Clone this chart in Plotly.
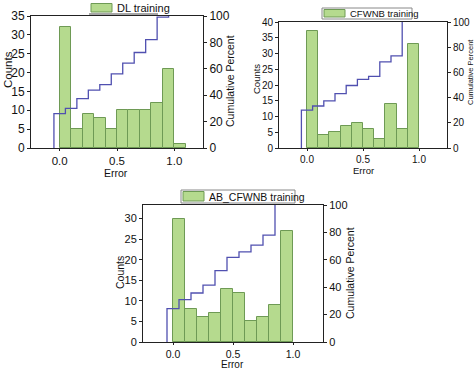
import plotly.graph_objects as go
import numpy as np

# ---- data ----
bin_width = 0.1
dl_counts = [32, 5, 9, 8, 5, 10, 10, 10, 12, 21, 1]
cfwnb_counts = [37, 4, 5, 7, 8, 6, 3, 14, 6, 33]
ab_counts = [30, 8, 6, 7, 13, 12, 5, 6, 9, 27]
names = ["DL training", "CFWNB training", "AB_CFWNB training"]
left_ranges = [35, 40, 33.3]
x_ticks = [0.0, 0.5, 1.0]
x_ticklabels = ["0.0", "0.5", "1.0"]

BAR_FILL = "#b5da8e"
BAR_LINE = "#6e9a55"
LINE_COL = "#5050b0"
FONT = "Liberation Sans, Arial, sans-serif"
W, H = 474, 370

fig = go.Figure()

def px_x(v):
    return v / W

def px_y(v):
    return 1 - v / H

panels = [
    dict(counts=dl_counts, xd=[px_x(31), px_x(203)], yd=[px_y(148), px_y(16)], fs=12, xfs=11.5,
         leg=dict(x0=89, x1=158, y0=2, y1=14, border=False, fs=11),
         t_counts=(8, 70, 11.5), t_cum=(230, 81, 10.5), t_err=(116, 173, 10.5)),
    dict(counts=cfwnb_counts, xd=[px_x(279), px_x(447)], yd=[px_y(148), px_y(22)], fs=10, xfs=10,
         leg=dict(x0=322, x1=412, y0=8, y1=19, border=True, fs=9.5),
         t_counts=(256, 79, 9.5), t_cum=(470, 72, 7.5), t_err=(363, 170, 9.5)),
    dict(counts=ab_counts, xd=[px_x(143), px_x(323)], yd=[px_y(342), px_y(205)], fs=11, xfs=10.5,
         leg=dict(x0=181, x1=295, y0=190, y1=203, border=True, fs=10.5),
         t_counts=(120, 273, 10.5), t_cum=(350, 273, 10.5), t_err=(232, 364.5, 10)),
]

layout = {}
shapes = []
annotations = []
for i, p in enumerate(panels):
    k = i + 1
    xa = "x" if k == 1 else f"x{k}"
    ya_left = "y" if k == 1 else f"y{2*k-1}"
    ya_right = f"y{2*k}"
    counts = np.array(p["counts"], dtype=float)
    n = len(counts)
    centers = bin_width * np.arange(n) + bin_width / 2
    fig.add_trace(go.Bar(
        x=centers, y=counts, width=bin_width,
        marker=dict(color=BAR_FILL, line=dict(color=BAR_LINE, width=1)),
        name=names[i], xaxis=xa, yaxis=ya_left, showlegend=False,
    ))
    cum = np.cumsum(counts) / counts.sum() * 100
    cx = np.concatenate([[centers[0] - bin_width], centers - bin_width])
    cy = np.concatenate([[0], cum])
    fig.add_trace(go.Scatter(
        x=cx, y=cy, mode="lines", line=dict(color=LINE_COL, width=1.3, shape="hv"),
        xaxis=xa, yaxis=ya_right, showlegend=False, cliponaxis=False,
    ))
    fs = p["fs"]
    xkey = "xaxis" if k == 1 else f"xaxis{k}"
    ylkey = "yaxis" if k == 1 else f"yaxis{2*k-1}"
    yrkey = f"yaxis{2*k}"
    common = dict(showline=True, linecolor="#222", linewidth=1, ticks="outside",
                  tickcolor="#222", showgrid=False, zeroline=False, automargin=False)
    layout[xkey] = dict(domain=p["xd"], range=[-0.25, 1.25], anchor=ya_left, ticklen=2,
                        tickvals=x_ticks, ticktext=x_ticklabels, mirror=True,
                        tickfont=dict(size=p["xfs"], color="#111", family=FONT), **common)
    layout[ylkey] = dict(domain=p["yd"], range=[0, left_ranges[i]], anchor=xa, dtick=5, ticklen=3,
                         tickfont=dict(size=fs, color="#111", family=FONT), **common)
    layout[yrkey] = dict(domain=p["yd"], range=[0, 100], anchor=xa, overlaying=ya_left,
                         side="right", dtick=20, ticklen=3,
                         tickfont=dict(size=fs, color="#111", family=FONT), **common)
    # axis titles
    for key, txt, ang in (("t_counts", "Counts", -90), ("t_cum", "Cumulative Percent", -90),
                          ("t_err", "Error", 0)):
        tx, ty, tsz = p[key]
        annotations.append(dict(xref="paper", yref="paper", x=px_x(tx), y=px_y(ty),
                                xanchor="center", yanchor="middle", text=txt, textangle=ang,
                                showarrow=False, font=dict(size=tsz, family=FONT, color="#111")))
    # legend box
    lg = p["leg"]
    if lg["border"]:
        shapes.append(dict(type="rect", xref="paper", yref="paper",
                           x0=px_x(lg["x0"]), x1=px_x(lg["x1"]), y0=px_y(lg["y1"]), y1=px_y(lg["y0"]),
                           line=dict(color="#888", width=1), fillcolor="white", layer="above"))
    else:
        shapes.append(dict(type="rect", xref="paper", yref="paper",
                           x0=px_x(lg["x0"]), x1=px_x(lg["x1"]), y0=px_y(lg["y1"]), y1=px_y(lg["y0"]),
                           line=dict(width=0), fillcolor="white", layer="above"))
        shapes.append(dict(type="line", xref="paper", yref="paper",
                           x0=px_x(lg["x0"]), x1=px_x(lg["x1"]), y0=px_y(lg["y1"]), y1=px_y(lg["y1"]),
                           line=dict(color="#888", width=1.5), layer="above"))
    sw0 = lg["x0"] + 2
    sw1 = sw0 + 21
    shapes.append(dict(type="rect", xref="paper", yref="paper",
                       x0=px_x(sw0), x1=px_x(sw1), y0=px_y(lg["y1"] - 2), y1=px_y(lg["y0"] + 1.5),
                       line=dict(color=BAR_LINE, width=1), fillcolor=BAR_FILL, layer="above"))
    annotations.append(dict(xref="paper", yref="paper", x=px_x(sw1 + 3),
                            y=px_y((lg["y0"] + lg["y1"]) / 2), xanchor="left", yanchor="middle",
                            text=names[i], showarrow=False,
                            font=dict(size=lg["fs"], family=FONT, color="#111")))

fig.update_layout(
    width=W, height=H, margin=dict(l=0, r=0, t=0, b=0),
    paper_bgcolor="white", plot_bgcolor="white", bargap=0, showlegend=False,
    font=dict(family=FONT), shapes=shapes, annotations=annotations, **layout,
)
fig.write_html("out.html", config={"displayModeBar": False},
               post_script="document.body.style.margin='0';document.body.style.overflow='hidden';")
